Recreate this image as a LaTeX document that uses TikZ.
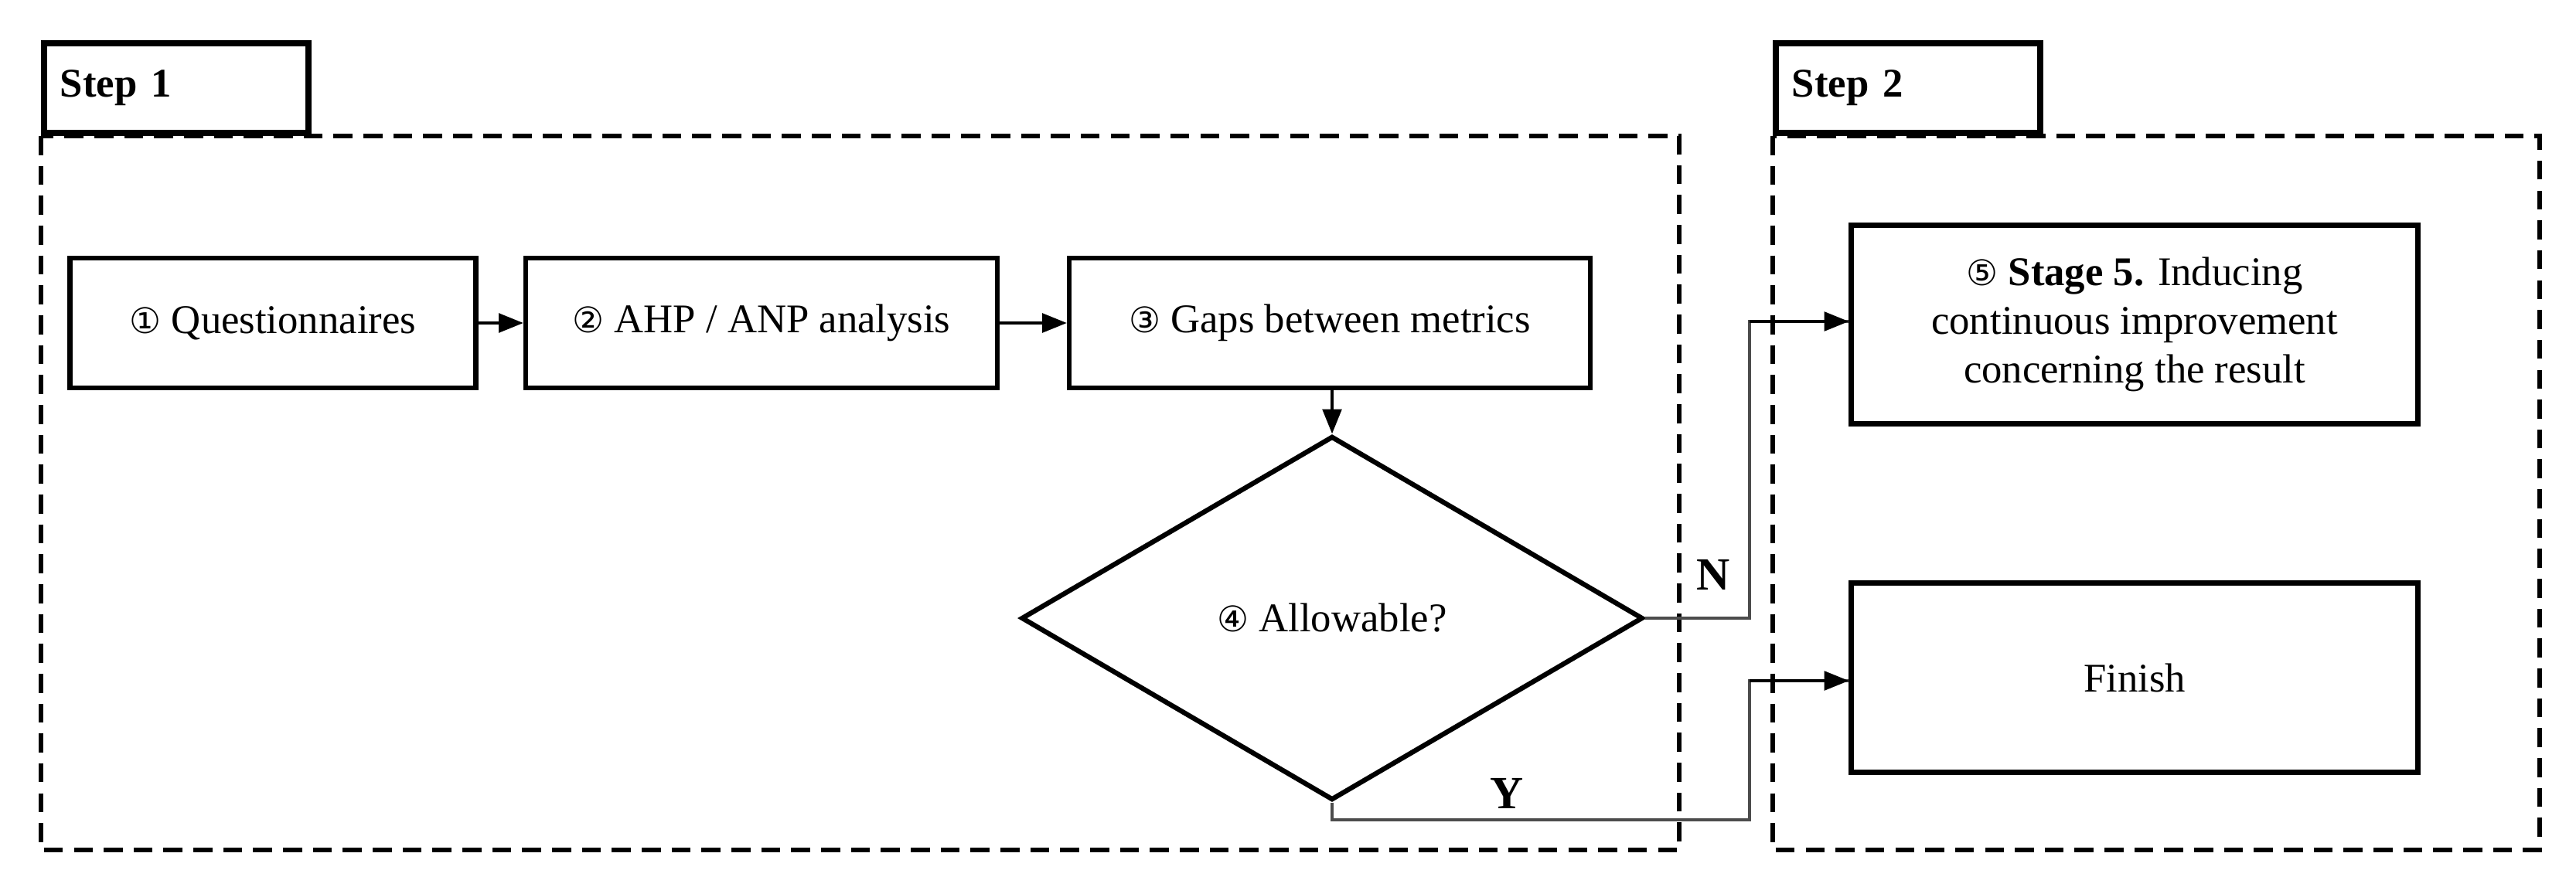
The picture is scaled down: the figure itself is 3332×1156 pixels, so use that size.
\documentclass[tikz,border=0pt]{standalone}
\usepackage{fontspec}
\setmainfont{Liberation Serif}
\newfontfamily\circfont{DejaVu Sans}
\usetikzlibrary{shapes.geometric,arrows.meta}
\newcommand{\cn}[1]{{\circfont\fontsize{13}{15}\selectfont #1}}
\begin{document}
\begin{tikzpicture}[x=0.1mm,y=-0.1mm,
  box/.style={draw,line width=1.8pt,minimum width=#1,align=center,font=\fontsize{15}{18}\selectfont},
  dbox/.style={draw,line width=1.6pt,dash pattern=on 7pt off 4pt},
  tab/.style={draw,line width=2.2pt,fill=white,anchor=south west,minimum width=342*0.1mm,minimum height=116*0.1mm,text width=300*0.1mm,align=left,font=\bfseries\fontsize{15}{18}\selectfont},
  arr/.style={-{Triangle[length=9pt,width=7pt]},line width=1pt},
  ln/.style={line width=1pt,draw=black!70}]
\useasboundingbox (0,0) rectangle (3332,1156);
\draw[dbox] (53,176) rectangle (2172,1100);
\draw[dbox] (2293,176) rectangle (3285,1100);
\node[tab] (s1) at (53,176) {Step 1};
\node[tab] (s2) at (2293,176) {Step 2};
\node[box=525*0.1mm,minimum height=168*0.1mm] (b1) at (353,418) {\cn{①} Questionnaires};
\node[box=610*0.1mm,minimum height=168*0.1mm] (b2) at (985,418) {\cn{②} AHP / ANP analysis};
\node[box=674*0.1mm,minimum height=168*0.1mm] (b3) at (1720,418) {\cn{③} Gaps between metrics};
\node[draw,line width=1.8pt,diamond,aspect=1.7,minimum width=804*0.1mm,minimum height=471*0.1mm,inner sep=0pt,font=\fontsize{15}{18}\selectfont] (d) at (1723,800) {\cn{④} Allowable?};
\node[box=733*0.1mm,minimum height=257*0.1mm] (b5) at (2761,420) {\cn{⑤} \textbf{Stage 5.} Inducing\\continuous improvement\\concerning the result};
\node[box=733*0.1mm,minimum height=245*0.1mm] (f) at (2761,877) {Finish};
\draw[arr] (b1) -- (b2);
\draw[arr] (b2) -- (b3);
\draw[arr] (b3.south -| d.north) -- (d.north);
\coordinate (nx) at (2263,800);
\coordinate (ny) at (2263,1061);
\draw[ln] (d.east) -- (nx) |- (b5.west |- 0,416);
\draw[arr] (2263,416) -- (b5.west |- 0,416);
\draw[ln] (d.south) |- (ny) |- (f.west |- 0,881);
\draw[arr] (2263,881) -- (f.west |- 0,881);
\node[font=\bfseries\fontsize{17}{19}\selectfont] (N) at (2216,744) {N};
\node[font=\bfseries\fontsize{17}{19}\selectfont] (Y) at (1949,1027) {Y};
\end{tikzpicture}
\end{document}
